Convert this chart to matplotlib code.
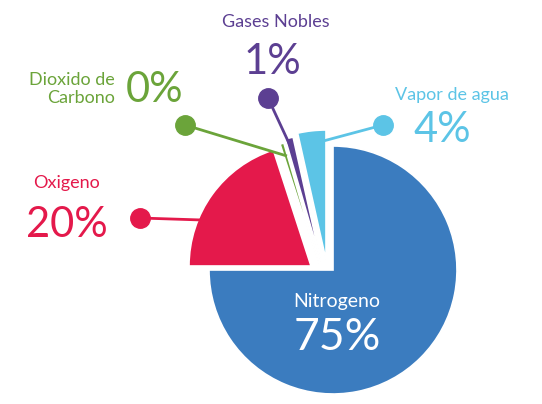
import matplotlib
matplotlib.use("Agg")
import matplotlib.pyplot as plt
from matplotlib.patches import Wedge
import numpy as np

labels = ["Vapor de agua", "Gases Nobles", "Dioxido de\nCarbono", "Oxigeno", "Nitrogeno"]
values = [3.5, 1.0, 0.5, 20.0, 75.0]
pct_labels = ["4%", "1%", "0%", "20%", "75%"]
colors = ["#5cc4e6", "#5c3f92", "#6ba43a", "#e4194b", "#3b7cbf"]

W, H = 542, 404
fig = plt.figure(figsize=(W/100, H/100), dpi=100)
ax = fig.add_axes([0, 0, 1, 1])
ax.set_xlim(0, W); ax.set_ylim(0, H); ax.set_aspect("equal"); ax.axis("off")

cx, cy = 333, H - 270
radii = [130, 128, 126, 122, 124]
offsets = [(-7, 10), (-12, 8), (-14, 6), (-22, 4), (0, 0)]
start = 90.0
tips = []
for v, r, (ex, ey), c in zip(values, radii, offsets, colors):
    end = start + v * 3.6
    mid = np.deg2rad((start + end) / 2)
    ox, oy = cx + ex, cy + ey
    ax.add_patch(Wedge((ox, oy), r, start, end, facecolor=c, edgecolor="white", lw=1.2))
    f = 0.62 if c == colors[3] else 0.9
    tips.append((ox + f*r*np.cos(mid), oy + f*r*np.sin(mid)))
    start = end

font = "Lato"
dots = [(383, 125), (268, 98), (185, 125), (140, 218)]
for i, (dx, dy) in enumerate(dots):
    tx, ty = tips[i]
    ax.plot([dx, tx], [H-dy, ty], color=colors[i], lw=2, zorder=1)
    ax.plot(dx, H-dy, "o", ms=14, color=colors[i], zorder=3)

ax.text(452, H-95, labels[0], color=colors[0], fontsize=13, ha="center", va="center", family=font)
ax.text(442, H-130, pct_labels[0], color=colors[0], fontsize=30, ha="center", va="center", family=font)
ax.text(276, H-22, labels[1], color=colors[1], fontsize=13, ha="center", va="center", family=font)
ax.text(272, H-62, pct_labels[1], color=colors[1], fontsize=30, ha="center", va="center", family=font)
ax.text(115, H-89, labels[2], color=colors[2], fontsize=13, ha="right", va="center", family=font, linespacing=1.1)
ax.text(155, H-90, pct_labels[2], color=colors[2], fontsize=30, ha="center", va="center", family=font)
ax.text(67, H-183, labels[3], color=colors[3], fontsize=13, ha="center", va="center", family=font)
ax.text(67, H-225, pct_labels[3], color=colors[3], fontsize=30, ha="center", va="center", family=font)
ax.text(337, H-302, labels[4], color="white", fontsize=14, ha="center", va="center", family=font)
ax.text(337, H-338, pct_labels[4], color="white", fontsize=32, ha="center", va="center", family=font)

fig.savefig("out.png", dpi=100)
